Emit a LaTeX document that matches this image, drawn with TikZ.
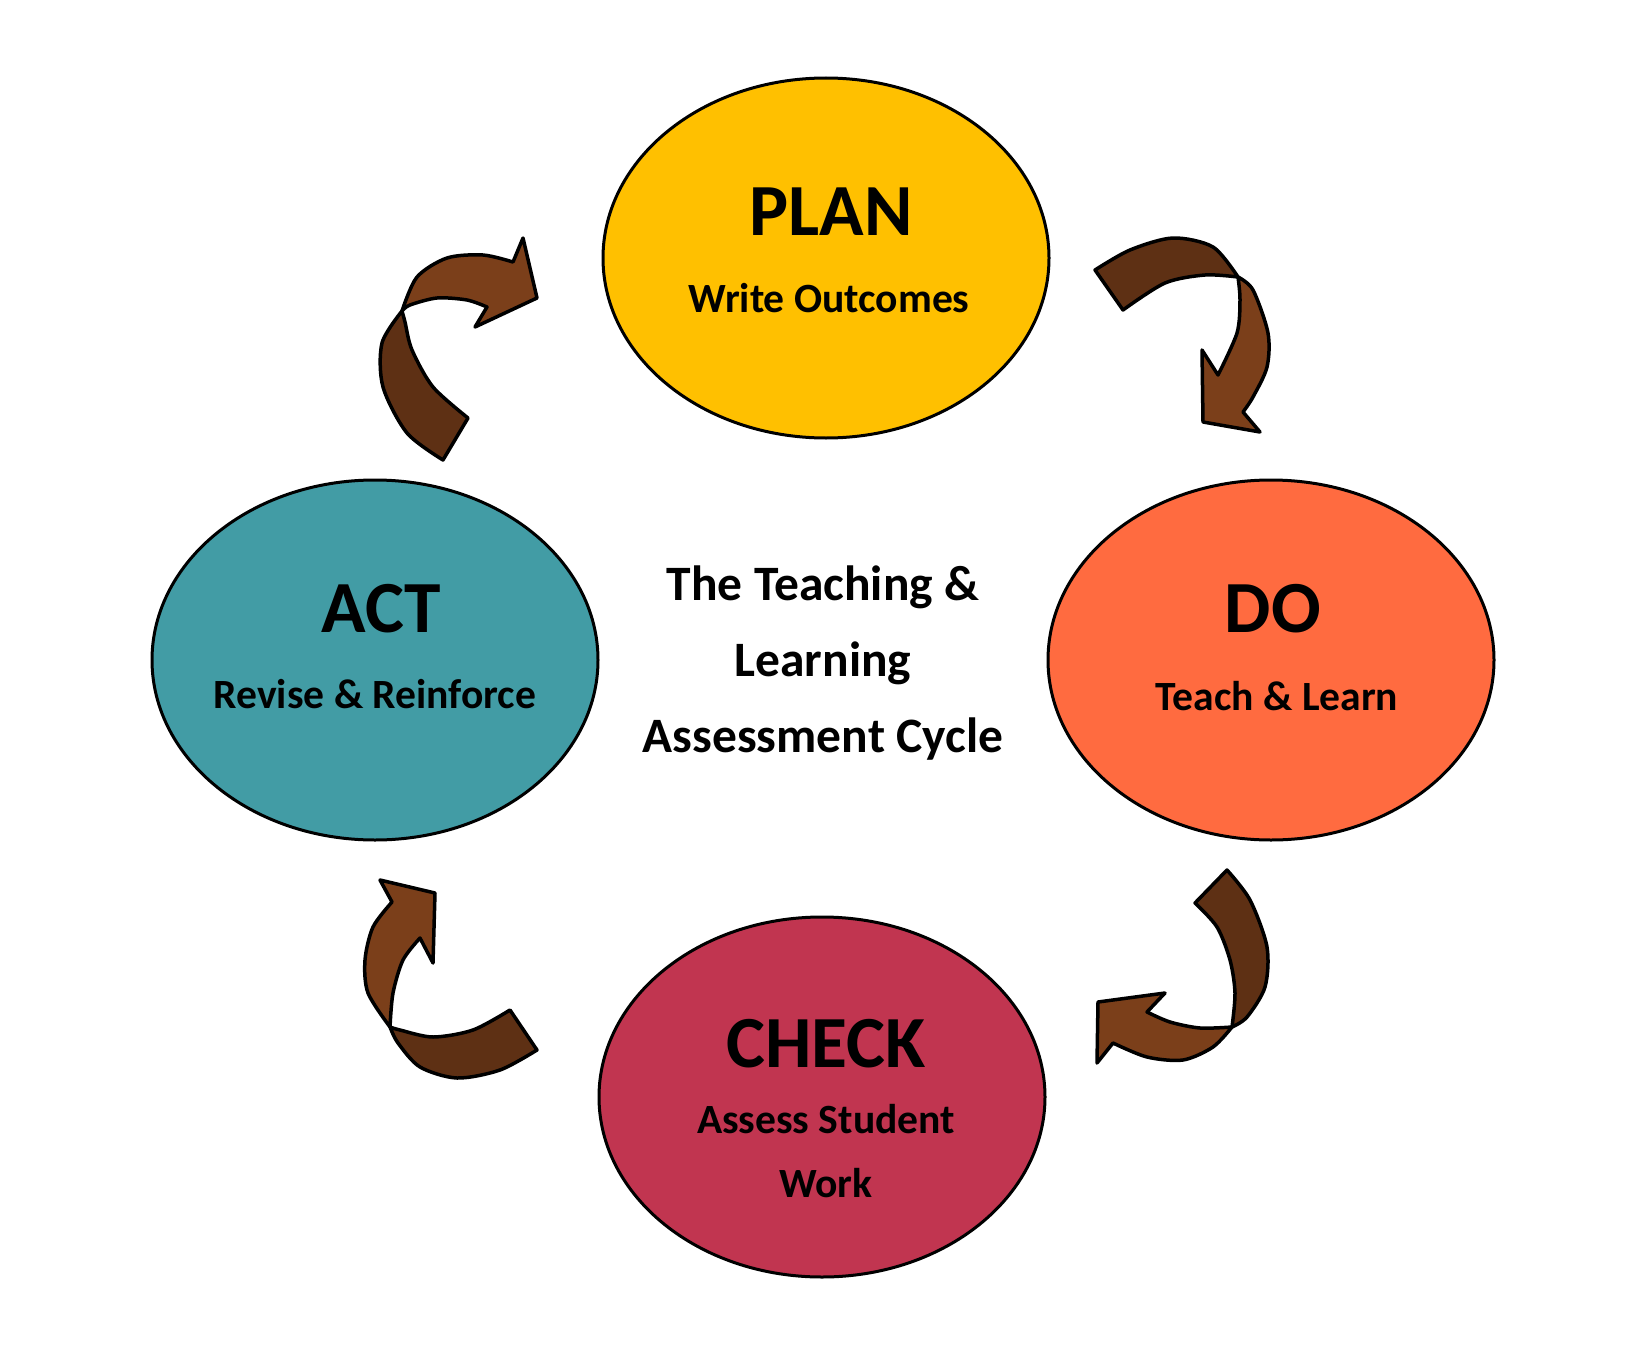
\documentclass[tikz,border=0pt]{standalone}
\usepackage{fontspec}
\setmainfont{Carlito}
\usetikzlibrary{positioning, shapes.geometric}
\definecolor{plangold}{HTML}{FFC000}
\definecolor{doorange}{HTML}{FF6B40}
\definecolor{actteal}{HTML}{429CA5}
\definecolor{checkred}{HTML}{C13550}
\definecolor{browndark}{HTML}{5E3014}
\definecolor{brownlight}{HTML}{7B3F1A}
\tikzset{
  stage/.style={
    draw, ellipse, line width=3pt,
    minimum width=446pt, minimum height=360pt, inner sep=0pt
  },
  title/.style={font=\fontsize{73.5}{88}\selectfont\bfseries, anchor=base},
  sub/.style={font=\fontsize{41.6}{64}\selectfont\bfseries, anchor=base, align=center},
  backlobe/.style={fill=browndark, draw=black, line width=3.5pt, line join=round},
  frontlobe/.style={fill=brownlight, draw=black, line width=3.5pt, line join=round},
  x=1pt, y=-1pt
}

\begin{document}
\begin{tikzpicture}
      \useasboundingbox (0,0) rectangle (1644,1354);

      \node[stage, fill=plangold]  (plan)  at (826,258)  {};
      \node[stage, fill=doorange]  (do)    at (1271,660) {};
      \node[stage, fill=checkred]  (check) at (822,1097) {};
      \node[stage, fill=actteal]   (act)   at (375,660)  {};

      \node[title] (plan-t)  at (831,235)  {PLAN};
      \node[sub]   (plan-s)  at (829,312)  {Write Outcomes};
      \node[title] (do-t)    at (1273,632) {DO};
      \node[sub]   (do-s)    at (1277,710) {Teach \& Learn};
      \node[title] (check-t) at (826,1067) {CHECK};
      \node[sub]   (check-s) at (826,1197) {Assess Student\\Work};
      \node[title] (act-t)   at (381,632)  {ACT};
      \node[sub]   (act-s)   at (375,708)  {Revise \& Reinforce};

      \node[font=\fontsize{49.5}{76}\selectfont\bfseries, align=center] (cycle) at (823,663)
        {The Teaching \&\\Learning\\Assessment Cycle};

      % plan -> do
      \filldraw[backlobe] plot[smooth] coordinates {(1095,270) (1130,250) (1173,238) (1213,247) (1238,277)}
        -- plot[smooth] coordinates {(1238,277) (1205,275) (1165,283) (1123,310)} -- cycle;
      \filldraw[frontlobe] plot[smooth] coordinates {(1238,277) (1240,300) (1237,333) (1218,375)}
        -- (1202,350) -- (1203,422) -- (1260,432) -- (1243,412)
        -- plot[smooth] coordinates {(1243,412) (1253,397) (1267,367) (1268,333) (1253,290) (1238,277)} -- cycle;

      % do -> check
      \filldraw[backlobe] plot[smooth] coordinates {(1227,870) (1250,900) (1267,947) (1265,987) (1247,1017) (1232,1027)}
        -- plot[smooth] coordinates {(1232,1027) (1235,993) (1230,960) (1217,927) (1195,903)} -- cycle;
      \filldraw[frontlobe] plot[smooth] coordinates {(1232,1027) (1213,1047) (1183,1060) (1147,1057) (1113,1043)}
        -- (1097,1063) -- (1098,1002) -- (1165,993) -- (1147,1012)
        -- plot[smooth] coordinates {(1147,1012) (1170,1022) (1200,1028) (1232,1027)} -- cycle;

      % check -> act
      \filldraw[backlobe] plot[smooth] coordinates {(537,1050) (500,1070) (457,1078) (420,1067) (398,1043) (390,1027)}
        -- plot[smooth] coordinates {(390,1027) (400,1030) (433,1037) (473,1030) (510,1010)} -- cycle;
      \filldraw[frontlobe] plot[smooth] coordinates {(390,1027) (368,993) (365,960) (373,927) (392,902)}
        -- (380,880) -- (435,893) -- (433,963) -- (420,938)
        -- plot[smooth] coordinates {(420,938) (403,960) (393,993) (390,1027)} -- cycle;

      % act -> plan
      \filldraw[backlobe] plot[smooth] coordinates {(443,460) (407,433) (383,387) (382,343) (402,311)}
        -- plot[smooth] coordinates {(402,311) (405,322) (412,350) (433,387) (468,418)} -- cycle;
      \filldraw[frontlobe] plot[smooth] coordinates {(402,311) (417,277) (447,258) (483,255) (513,262)}
        -- (523,238) -- (537,298) -- (475,327) -- (487,307)
        -- plot[smooth] coordinates {(487,307) (467,300) (437,298) (410,305) (402,311)} -- cycle;

    \end{tikzpicture}
\end{document}
